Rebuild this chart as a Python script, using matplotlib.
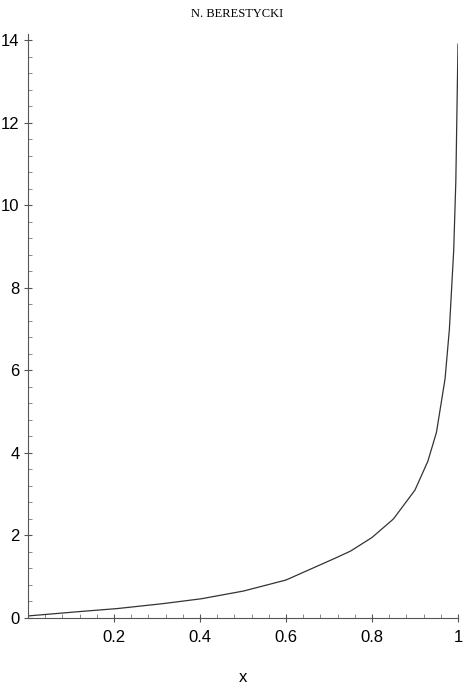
import numpy as np
import matplotlib.pyplot as plt
from matplotlib.ticker import MultipleLocator

# values
xs = [0.0, 0.1, 0.2, 0.3, 0.4, 0.5, 0.6, 0.7, 0.75, 0.8, 0.85, 0.9, 0.93, 0.95, 0.97, 0.98, 0.99, 0.995, 1.0]
ys = [0.05, 0.14, 0.22, 0.33, 0.46, 0.65, 0.92, 1.38, 1.62, 1.95, 2.4, 3.1, 3.8, 4.5, 5.8, 7.0, 8.9, 10.6, 13.9]
xticks = [0.2, 0.4, 0.6, 0.8, 1]
xticklabels = ['0.2', '0.4', '0.6', '0.8', '1']
yticks = [0, 2, 4, 6, 8, 10, 12, 14]

plt.rcParams['font.family'] = ['Liberation Sans', 'DejaVu Sans']
fig = plt.figure(figsize=(4.74, 6.96), dpi=100)
ax = fig.add_axes([28/474, 1 - 618/696, 430/474, 578/696])

# smooth the read points a little for drawing
xf = np.linspace(0, 1, 400)
yf = np.interp(xf, xs, ys)
ax.plot(xf, yf, color='#333333', lw=0.9)

ax.set_xlim(0, 1)
ax.set_ylim(0, 14)
ax.spines['top'].set_visible(False)
ax.spines['right'].set_visible(False)
ax.spines['left'].set_bounds(0, 14.15)
for s in ('left', 'bottom'):
    ax.spines[s].set_color('#555555')
    ax.spines[s].set_linewidth(0.8)
ax.set_xticks(xticks)
ax.set_xticklabels(xticklabels)
ax.set_yticks(yticks)
ax.xaxis.set_minor_locator(MultipleLocator(0.04))
ax.yaxis.set_minor_locator(MultipleLocator(0.4))
ax.tick_params(which='major', direction='inout', length=6, color='#555555', labelsize=12, pad=6)
ax.tick_params(which='minor', direction='in', length=3, color='#777777')
ax.tick_params(axis='y', pad=3)
ax.set_xlabel('x', fontsize=12, labelpad=18)

fig.text(0.5, 1 - 14/696, 'N. BERESTYCKI', ha='center', va='center',
         family='Liberation Serif', fontsize=9)

fig.savefig('out.png', dpi=100)
